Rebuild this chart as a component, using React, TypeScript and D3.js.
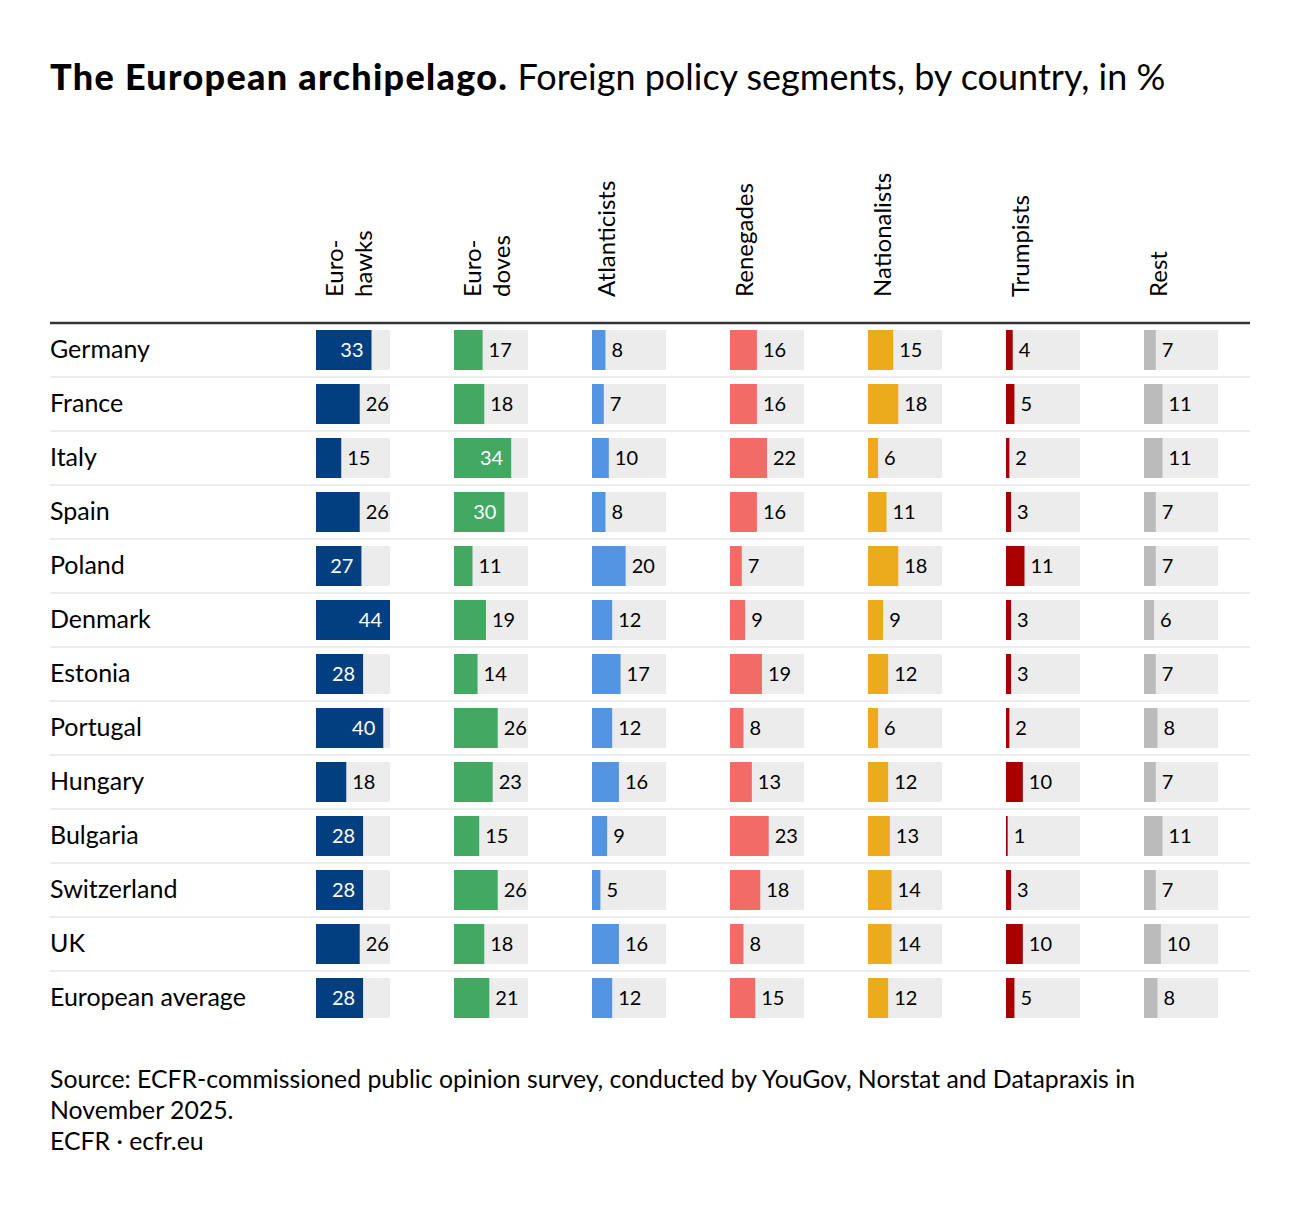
import * as React from 'react';
import * as d3 from 'd3';

const countries = [
  'Germany', 'France', 'Italy', 'Spain', 'Poland', 'Denmark', 'Estonia',
  'Portugal', 'Hungary', 'Bulgaria', 'Switzerland', 'UK', 'European average',
];

const segments = [
  ['Euro-', 'hawks'], ['Euro-', 'doves'], ['Atlanticists'], ['Renegades'],
  ['Nationalists'], ['Trumpists'], ['Rest'],
];

const segmentColors = ['#023f80', '#43a862', '#5495e1', '#f26b67', '#ecab1d', '#a80000', '#bbbbbb'];

const euroHawks = [33, 26, 15, 26, 27, 44, 28, 40, 18, 28, 28, 26, 28];
const euroDoves = [17, 18, 34, 30, 11, 19, 14, 26, 23, 15, 26, 18, 21];
const atlanticists = [8, 7, 10, 8, 20, 12, 17, 12, 16, 9, 5, 16, 12];
const renegades = [16, 16, 22, 16, 7, 9, 19, 8, 13, 23, 18, 8, 15];
const nationalists = [15, 18, 6, 11, 18, 9, 12, 6, 12, 13, 14, 14, 12];
const trumpists = [4, 5, 2, 3, 11, 3, 3, 2, 10, 1, 3, 10, 5];
const rest = [7, 11, 11, 7, 7, 6, 7, 8, 7, 11, 7, 10, 8];

const series = [euroHawks, euroDoves, atlanticists, renegades, nationalists, trumpists, rest];

const W = 1300;
const H = 1212;
const FONT = 'Lato, sans-serif';
const left = 50;
const right = 1250;
const tableTop = 323;
const rowH = 54;
const barH = 40;
const barW = 74;

export default function App() {
  const allMax = d3.max(series.flat()) as number;
  const x = d3.scaleLinear().domain([0, allMax]).range([0, barW]);
  const colX = d3.scaleBand<number>().domain(d3.range(segments.length)).range([316, 316 + 138 * 7]).align(0).paddingInner(0);
  const y = d3.scaleBand<string>().domain(countries).range([tableTop, tableTop + rowH * countries.length]);

  return (
    <svg width={W} height={H} viewBox={`0 0 ${W} ${H}`} style={{ display: 'block', margin: '-8px' }} fontFamily={FONT}>
      <rect width={W} height={H} fill="#fff" />
      <text x={left} y={90} fontSize={36} fill="#000">
        <tspan fontWeight={900} letterSpacing={1.3}>The European archipelago.</tspan>
        <tspan> Foreign policy segments, by country, in %</tspan>
      </text>

      {segments.map((lines, i) => {
        const cx = colX(i) as number;
        const offsets = lines.length === 1 ? [23] : [27, 56];
        return (
          <g key={i}>
            {lines.map((ln, j) => (
              <text key={j} transform={`translate(${cx + offsets[j]},297) rotate(-90)`} fontSize={24} fill="#000">
                {ln}
              </text>
            ))}
          </g>
        );
      })}

      {countries.map((c, r) => {
        const y0 = y(c) as number;
        const cy = y0 + rowH / 2;
        return (
          <g key={c}>
            {r < countries.length - 1 && (
              <line x1={left} x2={right} y1={y0 + rowH} y2={y0 + rowH} stroke="#ececec" strokeWidth={2} />
            )}
            <text x={left} y={cy + 8} fontSize={25} fill="#000">{c}</text>
            {series.map((vals, s) => {
              const v = vals[r];
              const bx = colX(s) as number;
              const bw = x(v);
              const inside = v >= 27;
              return (
                <g key={s}>
                  <rect x={bx} y={cy - barH / 2} width={barW} height={barH} fill="#ececec" />
                  <rect x={bx} y={cy - barH / 2} width={bw} height={barH} fill={segmentColors[s]} />
                  <text
                    x={inside ? bx + bw - 8 : bx + bw + 6}
                    y={cy + 7}
                    fontSize={20}
                    textAnchor={inside ? 'end' : 'start'}
                    fill={inside ? '#fff' : '#000'}
                  >
                    {v}
                  </text>
                </g>
              );
            })}
          </g>
        );
      })}

      <line x1={left} x2={right} y1={tableTop} y2={tableTop} stroke="#333" strokeWidth={2.5} />

      <g fontSize={24.8} fill="#000">
        <text x={left} y={1088}>Source: ECFR-commissioned public opinion survey, conducted by YouGov, Norstat and Datapraxis in</text>
        <text x={left} y={1119}>November 2025.</text>
        <text x={left} y={1150}>ECFR · ecfr.eu</text>
      </g>
    </svg>
  );
}
